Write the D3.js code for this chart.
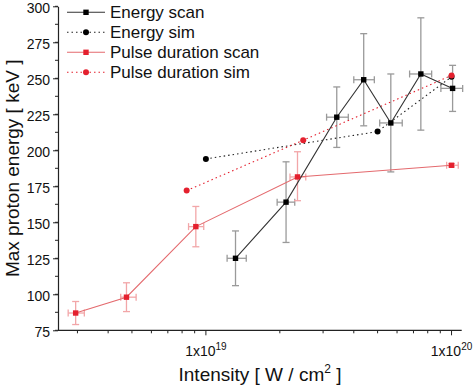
<!DOCTYPE html>
<html>
<head>
<meta charset="utf-8">
<script src="https://cdn.jsdelivr.net/npm/d3@7"></script>
<style>
	body { margin: 0; background: #fff; }
	text { font-family: 'Liberation Sans', Arial, sans-serif; fill: #111; }
</style>
</head>
<body>
<script>
// Energy scan (measured, with error bars)
const energyScanX = [1.32e19, 2.12e19, 3.41e19, 4.39e19, 5.66e19, 7.5e19, 1.01e20]
const energyScanY = [125, 164, 223, 249, 219, 253, 243]
const energyScanYLo = [106, 136, 202, 217, 185, 214, 227]
const energyScanYHi = [144, 192, 244, 281, 253, 292, 259]
const energyScanXLo = [1.22e19, 1.95e19, 3.1e19, 4.0e19, 5.1e19, 6.75e19, 9.05e19]
const energyScanXHi = [1.46e19, 2.3e19, 3.8e19, 4.85e19, 6.3e19, 8.3e19, 1.11e20]

// Energy sim
const energySimX = [1.0e19, 5.0e19, 1.0e20]
const energySimY = [194, 213, 251]

// Pulse duration scan
const pulseScanX = [2.95e18, 4.75e18, 9.1e18, 2.36e19, 1.0e20]
const pulseScanY = [87, 98, 147, 181.5, 189.6]
const pulseScanYLo = [79, 88, 133, 165, 188.5]
const pulseScanYHi = [95, 108, 161, 199, 190.7]
const pulseScanXLo = [2.75e18, 4.5e18, 8.5e18, 2.2e19, 9.55e19]
const pulseScanXHi = [3.2e18, 5.2e18, 9.8e18, 2.55e19, 1.065e20]

// Pulse duration sim
const pulseSimX = [8.35e18, 2.49e19, 1.0e20]
const pulseSimY = [172, 207, 252]

const yTicks = [75, 100, 125, 150, 175, 200, 225, 250, 275, 300]
const xMajor = [1e19, 1e20]
const legendLabels = ['Energy scan', 'Energy sim', 'Pulse duration scan', 'Pulse duration sim']

const W = 474, H = 391
const margin = { top: 6.3, bottom: 60.7, left: 58, right: 12.3 }
const width = W - margin.left - margin.right
const height = H - margin.top - margin.bottom

const red = '#e4202e'
const redLine = '#e46a6e'
const redErr = '#f2a6a8'
const greyErr = '#9a9a9a'

const svg = d3.select('body').append('svg').attr('width', W).attr('height', H)
const g = svg.append('g').attr('transform', `translate(${margin.left},${margin.top})`)

const x = d3.scaleLog().domain([2.5e18, 1.1e20]).range([0, width])
const y = d3.scaleLinear().domain([75, 300]).range([height, 0])

// axes
const yMinor = d3.range(75, 301, 12.5)
const yaxis = d3.axisLeft(y).tickValues(yTicks).tickSize(5).tickSizeOuter(0).tickPadding(3)
const gy = g.append('g').call(yaxis)
gy.selectAll('.tick text').style('font-size', '14px').attr('dy', '0.42em')
gy.selectAll('line').attr('stroke', '#222')
gy.select('.domain').attr('stroke', '#222').attr('stroke-width', 1.2)
gy.selectAll('.minor').data(yMinor).join('line').attr('class', 'minor')
	.attr('x1', 0).attr('x2', -3).attr('y1', d => y(d)).attr('y2', d => y(d)).attr('stroke', '#222')

const xMinor = []
for (let e = 18; e <= 19; e++) for (let k = 2; k <= 9; k++) {
	const v = k * Math.pow(10, e)
	if (v >= 2.5e18 && v <= 1.1e20) xMinor.push(v)
}
const gx = g.append('g').attr('transform', `translate(0,${height})`)
gx.append('line').attr('x1', 0).attr('x2', width).attr('stroke', '#222').attr('stroke-width', 1.2)
gx.selectAll('.minor').data(xMinor).join('line').attr('class', 'minor')
	.attr('x1', d => x(d)).attr('x2', d => x(d)).attr('y1', 0).attr('y2', 3).attr('stroke', '#222')
gx.selectAll('.major').data(xMajor).join('line').attr('class', 'major')
	.attr('x1', d => x(d)).attr('x2', d => x(d)).attr('y1', 0).attr('y2', 5).attr('stroke', '#222')
const xl = gx.selectAll('.lab').data(xMajor).join('text').attr('class', 'lab')
	.attr('x', d => x(d)).attr('y', 26).attr('text-anchor', 'middle').style('font-size', '14px')
xl.append('tspan').text('1x10')
xl.append('tspan').attr('dy', -6).style('font-size', '10px').text(d => Math.round(Math.log10(d)))

// axis titles
svg.append('text').attr('transform', `translate(19,${margin.top + height / 2}) rotate(-90)`)
	.attr('text-anchor', 'middle').style('font-size', '19px').text('Max proton energy [ keV ]')
const xt = svg.append('text').attr('x', 260).attr('y', 381).attr('text-anchor', 'middle').style('font-size', '19px')
xt.append('tspan').text('Intensity [ W / cm')
xt.append('tspan').attr('dy', -8).style('font-size', '12px').text('2')
xt.append('tspan').attr('dy', 8).text(' ]')

// error bars
function errorBars(xs, ys, xlo, xhi, ylo, yhi, color) {
	const eg = g.append('g').attr('stroke', color).attr('stroke-width', 1.3)
	xs.forEach((xv, i) => {
		const px = x(xv), py = y(ys[i])
		eg.append('line').attr('x1', px).attr('x2', px).attr('y1', y(ylo[i])).attr('y2', y(yhi[i]))
		eg.append('line').attr('x1', px - 3.5).attr('x2', px + 3.5).attr('y1', y(ylo[i])).attr('y2', y(ylo[i]))
		eg.append('line').attr('x1', px - 3.5).attr('x2', px + 3.5).attr('y1', y(yhi[i])).attr('y2', y(yhi[i]))
		eg.append('line').attr('x1', x(xlo[i])).attr('x2', x(xhi[i])).attr('y1', py).attr('y2', py)
		eg.append('line').attr('x1', x(xlo[i])).attr('x2', x(xlo[i])).attr('y1', py - 3.5).attr('y2', py + 3.5)
		eg.append('line').attr('x1', x(xhi[i])).attr('x2', x(xhi[i])).attr('y1', py - 3.5).attr('y2', py + 3.5)
	})
}
errorBars(energyScanX, energyScanY, energyScanXLo, energyScanXHi, energyScanYLo, energyScanYHi, greyErr)
errorBars(pulseScanX, pulseScanY, pulseScanXLo, pulseScanXHi, pulseScanYLo, pulseScanYHi, redErr)

const line = d3.line().x(d => x(d[0])).y(d => y(d[1]))
const zip = (a, b) => a.map((v, i) => [v, b[i]])

const series = [
	{ pts: zip(energySimX, energySimY), color: '#222', dash: '1.5,3', marker: 'circle', mcolor: '#000' },
	{ pts: zip(pulseSimX, pulseSimY), color: red, dash: '1.5,3', marker: 'circle', mcolor: red },
	{ pts: zip(pulseScanX, pulseScanY), color: redLine, dash: null, marker: 'square', mcolor: red },
	{ pts: zip(energyScanX, energyScanY), color: '#333', dash: null, marker: 'square', mcolor: '#000' }
]

series.forEach(s => {
	g.append('path').datum(s.pts).attr('d', line).attr('fill', 'none')
		.attr('stroke', s.color).attr('stroke-width', 1.1).attr('stroke-dasharray', s.dash)
})
function marker(sel, type, color) {
	if (type === 'circle') sel.append('circle').attr('r', 3).attr('fill', color)
	else sel.append('rect').attr('x', -2.7).attr('y', -2.7).attr('width', 5.4).attr('height', 5.4).attr('fill', color)
}
series.forEach(s => {
	s.pts.forEach(p => {
		marker(g.append('g').attr('transform', `translate(${x(p[0])},${y(p[1])})`), s.marker, s.mcolor)
	})
})

// legend
const legendStyle = [
	{ color: '#333', dash: null, marker: 'square', mcolor: '#000' },
	{ color: '#222', dash: '1.5,3', marker: 'circle', mcolor: '#000' },
	{ color: redLine, dash: null, marker: 'square', mcolor: red },
	{ color: red, dash: '1.5,3', marker: 'circle', mcolor: red }
]
const lg = svg.append('g')
legendLabels.forEach((lab, i) => {
	const row = lg.append('g').attr('transform', `translate(67,${12.3 + i * 20})`)
	const st = legendStyle[i]
	row.append('line').attr('x1', 0).attr('x2', 38).attr('stroke', st.color).attr('stroke-width', 1.1)
		.attr('stroke-dasharray', st.dash)
	marker(row.append('g').attr('transform', 'translate(19,0)'), st.marker, st.mcolor)
	row.append('text').attr('x', 43).attr('y', 6).style('font-size', '17px').text(lab)
})
</script>
</body>
</html>
